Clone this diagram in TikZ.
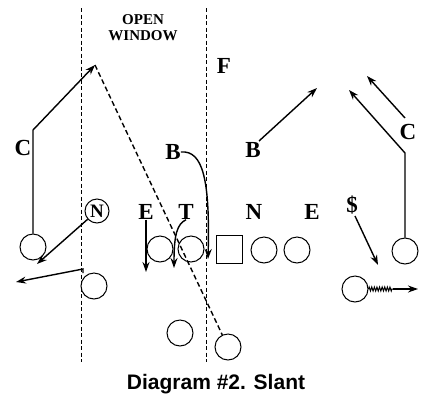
\documentclass[tikz,border=0pt]{standalone}
\usepackage{fontspec}
\setmainfont{Liberation Serif}
\newfontfamily\titlefont{Liberation Sans}
\usetikzlibrary{arrows.meta,decorations.pathmorphing}
\begin{document}
\begin{tikzpicture}[x=1pt,y=-1pt,
  player/.style={draw,circle,minimum size=26pt,inner sep=0pt,line width=1pt},
  center/.style={draw,rectangle,minimum width=26pt,minimum height=28pt,inner sep=0pt,line width=1pt},
  lbl/.style={font=\bfseries\fontsize{23}{23}\selectfont,inner sep=0pt},
  route/.style={line width=1.4pt,-{Stealth[length=10pt,width=7pt]}},
  window/.style={line width=1pt,dash pattern=on 4pt off 2.5pt},
  pass/.style={line width=1.4pt,dash pattern=on 5pt off 3pt}]
\useasboundingbox (0,0) rectangle (443,402);
% window lines
\coordinate (wla) at (81,8); \coordinate (wlb) at (81,362);
\coordinate (wra) at (206,8); \coordinate (wrb) at (206,362);
\draw[window] (wla) -- (wlb);
\draw[window] (wra) -- (wrb);
\node[font=\bfseries\fontsize{15}{16}\selectfont,align=center,inner sep=0pt] (ow) at (143,28) {OPEN\\WINDOW};
% offense
\node[player] (c1) at (33,247) {};
\node[player] (wr) at (94,286) {};
\node[player] (le) at (160,249) {};
\node[player] (lt) at (191,249) {};
\node[center] (ce) at (229,249) {};
\node[player] (rg) at (264,250) {};
\node[player] (rt) at (297,250) {};
\node[player] (c2) at (405,251) {};
\node[player] (mo) at (355,289) {};
\node[player] (hb) at (180,333) {};
\node[player] (qb) at (228,347) {};
% defense labels
\node[lbl] (cl) at (23,148) {C};
\node[draw,circle,minimum size=24pt,inner sep=0pt,line width=1pt,font=\bfseries\fontsize{19}{19}\selectfont] (nl) at (97,211) {N};
\node[lbl] (el) at (146,212) {E};
\node[lbl] (tl) at (186,212) {T};
\node[lbl] (bl) at (173,152) {B};
\node[lbl] (fl) at (224,66) {F};
\node[lbl] (br) at (253,150) {B};
\node[lbl] (nr) at (254,212) {N};
\node[lbl] (er) at (312,212) {E};
\node[lbl] (sl) at (352,205) {\$};
\node[lbl] (cr) at (408,132) {C};
% routes
\coordinate (c1turn) at (33,130);
\coordinate (c1end) at (95,65);
\draw[route] (c1.north) -- (c1turn) -- (c1end);
\draw[pass] (c1end) -- (qb);
\coordinate (nlend) at (37,264);
\draw[route] (nl) -- (nlend);
\coordinate (wra1) at (83,273);
\coordinate (wra2) at (83,269);
\coordinate (wrend) at (16,282);
\draw[route] (wra1) -- (wra2) -- (wrend);
\coordinate (eend) at (146,272);
\draw[route] (el.south) -- (eend);
\coordinate (tend) at (174,268);
\draw[route] (tl.south) .. controls (177,224) and (174,235) .. (tend);
\coordinate (bend) at (208,259);
\draw[route] (bl.east) .. controls (203,150) and (210,180) .. (bend);
\coordinate (brs) at (259,141);
\coordinate (brend) at (317,88);
\draw[route] (brs) -- (brend);
\coordinate (c2turn) at (405,153);
\coordinate (c2end) at (349,90);
\draw[route] (c2.north) -- (c2turn) -- (c2end);
\coordinate (crs) at (405,118);
\coordinate (crend) at (367,76);
\draw[route] (crs) -- (crend);
\coordinate (ss) at (355,216);
\coordinate (send) at (378,265);
\draw[route] (ss) -- (send);
\coordinate (zz) at (393,289);
\coordinate (zzend) at (418,289);
\draw[line width=1pt,decorate,decoration={zigzag,segment length=2.6pt,amplitude=2pt}] (mo.east) -- (zz);
\draw[route] (zz) -- (zzend);
% title
\node[font=\titlefont\bfseries\fontsize{21}{21}\selectfont,inner sep=0pt] (title) at (216,384) {Diagram \#2. Slant};
\end{tikzpicture}
\end{document}
